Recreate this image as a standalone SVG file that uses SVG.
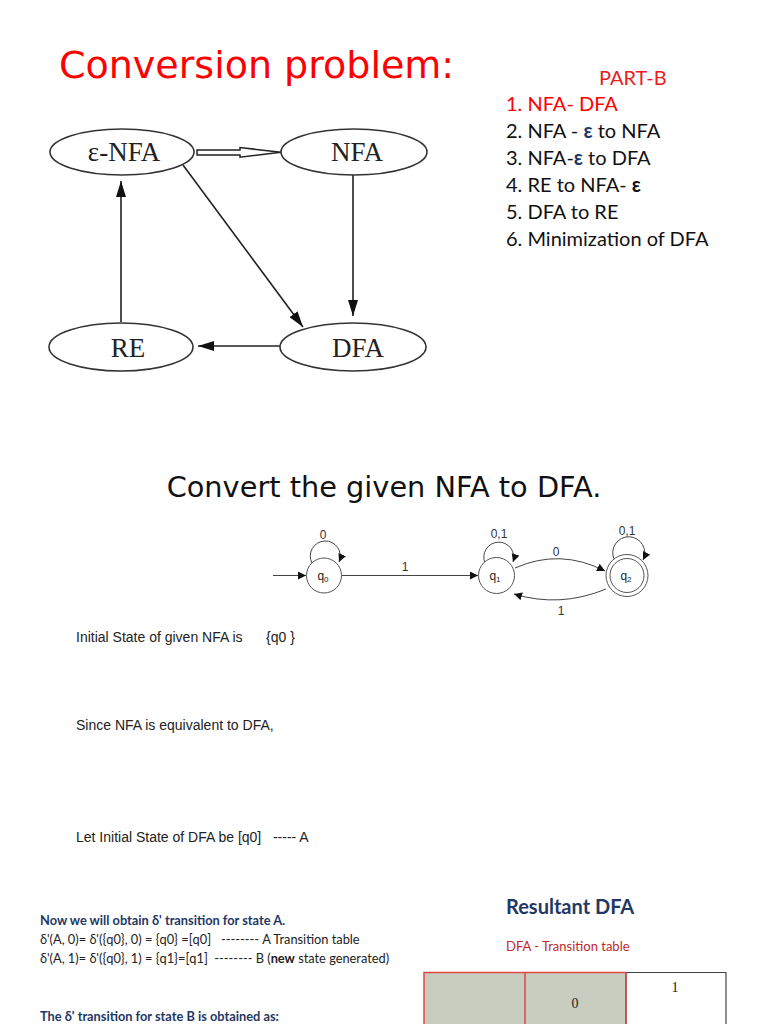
<svg xmlns="http://www.w3.org/2000/svg" width="768" height="1024" viewBox="0 0 768 1024">
<style>
text{white-space:pre}
.node ellipse{fill:#fff;stroke:#333;stroke-width:1.6}
.nl{font-family:"Liberation Serif",serif;font-size:27px;fill:#222;text-anchor:middle}
.edge{stroke:#222;stroke-width:1.6;fill:none}
.st circle{fill:#fff;stroke:#555;stroke-width:1}
.sl{font-family:"Liberation Sans",Arial,sans-serif;font-size:12px;fill:#222;text-anchor:middle}
.el{font-family:"Liberation Sans",Arial,sans-serif;font-size:12px;fill:#333;text-anchor:middle}
.e2{stroke:#444;stroke-width:1;fill:none}
.li{font-family:Lato,"Open Sans",sans-serif;font-size:20px;fill:#111}
.body{font-family:"Liberation Sans",Arial,sans-serif;font-size:14px;fill:#222}
.cal{font-family:Lato,"Open Sans",sans-serif;font-size:12.8px;fill:#222}
.navy{fill:#1f3864;font-weight:bold}
.eps{fill:#1f3864;font-weight:bold}
</style>
<defs>
<marker id="ah" viewBox="0 0 16 10" refX="16" refY="5" markerWidth="16" markerHeight="10" markerUnits="userSpaceOnUse" orient="auto"><path d="M0,0 L16,5 L0,10 Z" fill="#111"/></marker>
<marker id="sa" viewBox="0 0 8 8" refX="8" refY="4" markerWidth="8" markerHeight="8" markerUnits="userSpaceOnUse" orient="auto"><path d="M0,0 L8,4 L0,8 Z" fill="#111"/></marker>
</defs>
<rect width="768" height="1024" fill="#fff"/>
<text x="59" y="78" font-family="DejaVu Sans,sans-serif" font-size="38" fill="#ff0000">Conversion problem:</text>

<g id="connectors">
<path class="edge" d="M183,165 L303,327" marker-end="url(#ah)"/>
<path class="edge" d="M353,175 L353,316" marker-end="url(#ah)"/>
<path class="edge" d="M280,346 L198,346" marker-end="url(#ah)"/>
<path class="edge" d="M121,322 L121,181" marker-end="url(#ah)"/>
<path d="M197,150 L240,150 L240,147.5 L281,152.3 L240,157.2 L240,155 L197,155 Z" fill="#fff" stroke="#222" stroke-width="1.5"/>
</g>
<g id="n-enfa" class="node"><ellipse cx="122" cy="152" rx="72" ry="23"/><text class="nl" x="124" y="161">ε-NFA</text></g>
<g id="n-nfa" class="node"><ellipse cx="354" cy="152" rx="73" ry="23"/><text class="nl" x="357" y="161">NFA</text></g>
<g id="n-re" class="node"><ellipse cx="121" cy="347" rx="72" ry="24"/><text class="nl" x="128" y="357">RE</text></g>
<g id="n-dfa" class="node"><ellipse cx="353" cy="347" rx="73" ry="24"/><text class="nl" x="358" y="357">DFA</text></g>

<text class="li" x="599" y="85" font-size="19" style="fill:#e8201e">PART-B</text>
<text class="li" x="506" y="111" style="fill:#ff0000">1. NFA- DFA</text>
<text class="li" x="506" y="138">2. NFA - <tspan class="eps">ε</tspan> to NFA</text>
<text class="li" x="506" y="165">3. NFA-<tspan class="eps">ε</tspan> to DFA</text>
<text class="li" x="506" y="192">4. RE to NFA- <tspan font-weight="bold">ε</tspan></text>
<text class="li" x="506" y="219">5. DFA to RE</text>
<text class="li" x="506" y="246">6. Minimization of DFA</text>

<text x="384" y="497" font-family="DejaVu Sans,sans-serif" font-size="28.8" fill="#111" text-anchor="middle">Convert the given NFA to DFA.</text>

<g id="nfa-connectors">
<path class="e2" d="M273,575.5 L306,575.5" marker-end="url(#sa)"/>
<path class="e2" d="M342,575.5 L478,575.5" marker-end="url(#sa)"/>
<path class="e2" d="M312,563 A15 15 0 1 1 339,562" marker-end="url(#sa)"/>
<path class="e2" d="M485,563 A15 15 0 1 1 513,562" marker-end="url(#sa)"/>
<path class="e2" d="M614,559 A16 16 0 1 1 643,560" marker-end="url(#sa)"/>
<path class="e2" d="M515,568 Q560,548 605,571" marker-end="url(#sa)"/>
<path class="e2" d="M606,589 Q560,608 514,594" marker-end="url(#sa)"/>
<text class="el" x="323" y="539">0</text>
<text class="el" x="405" y="571">1</text>
<text class="el" x="499" y="538">0,1</text>
<text class="el" x="627" y="535">0,1</text>
<text class="el" x="556" y="556">0</text>
<text class="el" x="561" y="615">1</text>
</g>
<g id="q0" class="st"><circle cx="324" cy="575.5" r="17.5"/><text class="sl" x="323" y="580">q<tspan font-size="8" dy="2">0</tspan></text></g>
<g id="q1" class="st"><circle cx="496.5" cy="575.5" r="18"/><text class="sl" x="495" y="580">q<tspan font-size="8" dy="2">1</tspan></text></g>
<g id="q2" class="st"><circle cx="627" cy="575.5" r="21"/><circle cx="627" cy="575.5" r="17"/><text class="sl" x="626" y="580">q<tspan font-size="8" dy="2">2</tspan></text></g>

<text class="body" x="76" y="642">Initial State of given NFA is</text>
<text class="body" x="266" y="642">{q0 }</text>
<text class="body" x="76" y="730">Since NFA is equivalent to DFA,</text>
<text class="body" x="76" y="842">Let Initial State of DFA be [q0]   ----- A</text>

<text class="cal navy" x="40" y="925">Now we will obtain δ' transition for state A.</text>
<text class="cal" x="40" y="944">δ'(A, 0)= δ'({q0}, 0) = {q0} =[q0]   -------- A Transition table</text>
<text class="cal" x="40" y="963">δ'(A, 1)= δ'({q0}, 1) = {q1}=[q1]  -------- B (<tspan font-weight="bold">new</tspan> state generated)</text>
<text class="cal navy" x="40" y="1021">The δ' transition for state B is obtained as:</text>

<text x="506" y="914" font-family="Lato,sans-serif" font-size="20" font-weight="bold" fill="#1f3864">Resultant DFA</text>
<text x="506" y="951" font-family="Lato,sans-serif" font-size="13" fill="#c0282c">DFA - Transition table</text>

<g id="table">
<rect x="424" y="972.5" width="202" height="60" fill="#c8cdc0"/>
<path d="M626,1030 L626,972.5 L726,972.5 L726,1030" fill="none" stroke="#444" stroke-width="1.2"/>
<path d="M424,1030 L424,972.5 L626,972.5 M525,972.5 L525,1030 M626,972.5 L626,1030" fill="none" stroke="#e04848" stroke-width="1.5"/>
<text x="575" y="1008" font-family="Liberation Serif,serif" font-size="14" text-anchor="middle" fill="#222">0</text>
<text x="675" y="992" font-family="Liberation Serif,serif" font-size="14" text-anchor="middle" fill="#222">1</text>
</g>
</svg>
